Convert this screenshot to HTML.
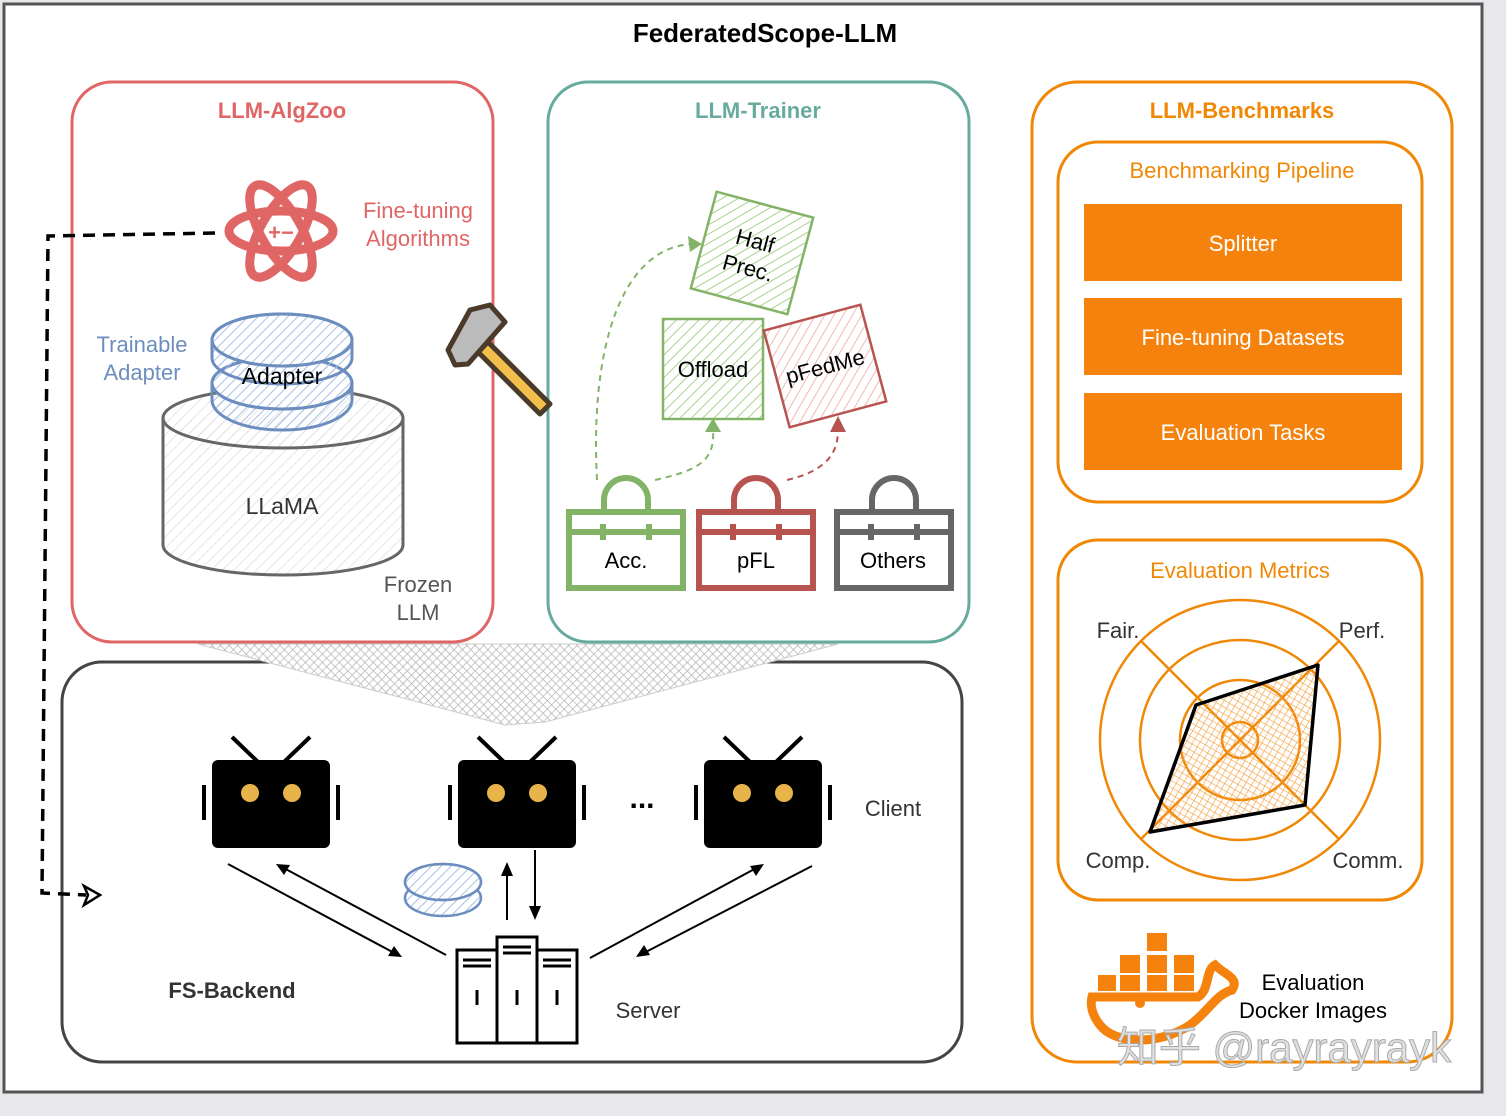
<!DOCTYPE html>
<html><head><meta charset="utf-8"><style>
html,body{margin:0;padding:0;background:#fff;}
svg{display:block;font-family:"Liberation Sans",Arial,sans-serif;}
</style></head><body>
<svg width="1506" height="1116" viewBox="0 0 1506 1116" xmlns="http://www.w3.org/2000/svg">
<defs>
<pattern id="hg" patternUnits="userSpaceOnUse" width="8" height="8" patternTransform="rotate(45)"><line x1="0" y1="0" x2="0" y2="8" stroke="#a9d18e" stroke-width="2"/></pattern>
<pattern id="hr" patternUnits="userSpaceOnUse" width="8" height="8" patternTransform="rotate(45)"><line x1="0" y1="0" x2="0" y2="8" stroke="#f2b8b8" stroke-width="2"/></pattern>
<pattern id="hb" patternUnits="userSpaceOnUse" width="7" height="7" patternTransform="rotate(45)"><line x1="0" y1="0" x2="0" y2="7" stroke="#a8c0e6" stroke-width="2"/></pattern>
<pattern id="hy" patternUnits="userSpaceOnUse" width="8" height="8" patternTransform="rotate(45)"><line x1="0" y1="0" x2="0" y2="8" stroke="#dedede" stroke-width="1.5"/></pattern>
<pattern id="hx" patternUnits="userSpaceOnUse" width="6" height="6" patternTransform="rotate(45)"><path d="M0 0V6M0 0H6" stroke="#b5b5b5" stroke-width="1.5"/></pattern>
<pattern id="ho" patternUnits="userSpaceOnUse" width="6" height="6" patternTransform="rotate(30)"><path d="M0 0V6M0 0H6" stroke="#f5a040" stroke-width="1.3"/></pattern>
</defs>
<rect x="0" y="0" width="1506" height="1116" fill="#e8e8ec"/>
<rect x="4" y="4" width="1478" height="1088" fill="#fff" stroke="#555" stroke-width="3"/>
<text x="765" y="42" text-anchor="middle" font-size="26" font-weight="bold">FederatedScope-LLM</text>

<!-- Backend (drawn first, so trapezoid overlays) -->
<rect x="62" y="662" width="900" height="400" rx="40" fill="#fff" stroke="#444" stroke-width="3"/>
<polygon points="198,644 838,644 545,722 505,725" fill="#fff"/>
<polygon points="198,644 838,644 545,722 505,725" fill="url(#hx)" stroke="#ccc" stroke-width="1"/>

<!-- AlgZoo -->
<rect x="72" y="82" width="421" height="560" rx="40" fill="#fff" stroke="#e06666" stroke-width="3"/>
<text x="282" y="118" text-anchor="middle" font-size="22" font-weight="bold" fill="#e06666">LLM-AlgZoo</text>
<g fill="none" stroke="#e06666" stroke-width="9">
<ellipse cx="281" cy="231" rx="52" ry="20"/>
<ellipse cx="281" cy="231" rx="52" ry="20" transform="rotate(60 281 231)"/>
<ellipse cx="281" cy="231" rx="52" ry="20" transform="rotate(-60 281 231)"/>
</g>
<text x="281" y="240" text-anchor="middle" font-size="22" font-weight="bold" fill="#e06666">+−</text>
<text x="418" y="218" text-anchor="middle" font-size="22" fill="#e06666">Fine-tuning</text>
<text x="418" y="246" text-anchor="middle" font-size="22" fill="#e06666">Algorithms</text>
<text x="142" y="352" text-anchor="middle" font-size="22" fill="#6c8ebf">Trainable</text>
<text x="142" y="380" text-anchor="middle" font-size="22" fill="#6c8ebf">Adapter</text>
<path d="M163 418 V545 A120 30 0 0 0 403 545 V418" fill="url(#hy)" stroke="#666" stroke-width="3"/>
<ellipse cx="283" cy="418" rx="120" ry="30" fill="url(#hy)" stroke="#666" stroke-width="3"/>
<g stroke="#6c8ebf" stroke-width="3" fill="url(#hb)">
<path d="M212 383 V400 A70 30 0 0 0 352 400 V383"/>
<ellipse cx="282" cy="383" rx="70" ry="26" fill="#fff"/>
<ellipse cx="282" cy="383" rx="70" ry="26"/>
<path d="M212 340 V358 A70 26 0 0 0 352 358 V340"/>
<ellipse cx="282" cy="340" rx="70" ry="26" fill="#fff"/>
<ellipse cx="282" cy="340" rx="70" ry="26"/>
</g>
<text x="282" y="384" text-anchor="middle" font-size="23">Adapter</text>
<text x="282" y="514" text-anchor="middle" font-size="23" fill="#333">LLaMA</text>
<text x="418" y="592" text-anchor="middle" font-size="22" fill="#555">Frozen</text>
<text x="418" y="620" text-anchor="middle" font-size="22" fill="#555">LLM</text>

<!-- Trainer -->
<rect x="548" y="82" width="421" height="560" rx="40" fill="#fff" stroke="#67ab9f" stroke-width="3"/>
<text x="758" y="118" text-anchor="middle" font-size="22" font-weight="bold" fill="#67ab9f">LLM-Trainer</text>
<!-- hammer -->
<g stroke="#4a3a2a" stroke-width="5" stroke-linejoin="round">
<polygon points="488,342 550,404 540,414 478,352" fill="#f2c04a"/>
<polygon points="448,350 470,310 490,305 505,322 468,364 455,365" fill="#bbb"/>
</g>
<g transform="rotate(15 752 253)"><rect x="702" y="203" width="100" height="100" fill="url(#hg)" stroke="#82b366" stroke-width="2.5"/>
<text x="752" y="248" text-anchor="middle" font-size="22">Half</text><text x="752" y="276" text-anchor="middle" font-size="22">Prec.</text></g>
<rect x="663" y="319" width="100" height="100" fill="url(#hg)" stroke="#82b366" stroke-width="2.5"/>
<text x="713" y="377" text-anchor="middle" font-size="22">Offload</text>
<g transform="rotate(-15 825 366)"><rect x="775" y="316" width="100" height="100" fill="url(#hr)" stroke="#b85450" stroke-width="2.5"/>
<text x="825" y="374" text-anchor="middle" font-size="22">pFedMe</text></g>
<g fill="none" stroke-width="2" stroke-dasharray="6,5">
<path d="M597 480 C590 350 620 250 690 244" stroke="#82b366"/>
<path d="M655 480 C700 470 715 460 713 430" stroke="#82b366"/>
<path d="M787 480 C830 470 838 450 838 430" stroke="#b85450"/>
</g>
<polygon points="702,244 688,236 690,252" fill="#82b366"/>
<polygon points="713,418 705,432 721,432" fill="#82b366"/>
<polygon points="838,416 830,432 846,432" fill="#b85450"/>
<g fill="#fff" stroke-width="6">
<g stroke="#82b366"><path d="M604 512 V500 A22 22 0 0 1 648 500 V512" fill="none"/><rect x="569" y="512" width="114" height="76"/><line x1="569" y1="532" x2="683" y2="532"/><line x1="603" y1="524" x2="603" y2="540"/><line x1="649" y1="524" x2="649" y2="540"/></g>
<g stroke="#b85450"><path d="M734 512 V500 A22 22 0 0 1 778 500 V512" fill="none"/><rect x="699" y="512" width="114" height="76"/><line x1="699" y1="532" x2="813" y2="532"/><line x1="733" y1="524" x2="733" y2="540"/><line x1="779" y1="524" x2="779" y2="540"/></g>
<g stroke="#666"><path d="M872 512 V500 A22 22 0 0 1 916 500 V512" fill="none"/><rect x="837" y="512" width="114" height="76"/><line x1="837" y1="532" x2="951" y2="532"/><line x1="871" y1="524" x2="871" y2="540"/><line x1="917" y1="524" x2="917" y2="540"/></g>
</g>
<text x="626" y="568" text-anchor="middle" font-size="22">Acc.</text>
<text x="756" y="568" text-anchor="middle" font-size="22">pFL</text>
<text x="893" y="568" text-anchor="middle" font-size="22">Others</text>

<!-- robots -->
<g>
<g id="rb"><line x1="232" y1="737" x2="258" y2="762" stroke="#000" stroke-width="4"/><line x1="310" y1="737" x2="284" y2="762" stroke="#000" stroke-width="4"/>
<rect x="212" y="760" width="118" height="88" rx="6" fill="#000"/><rect x="202" y="785" width="4" height="35" fill="#000"/><rect x="336" y="785" width="4" height="35" fill="#000"/>
<circle cx="250" cy="793" r="9" fill="#e8b44a"/><circle cx="292" cy="793" r="9" fill="#e8b44a"/></g>
<use href="#rb" x="246"/><use href="#rb" x="492"/>
</g>
<text x="642" y="808" text-anchor="middle" font-size="30" font-weight="bold">...</text>
<text x="893" y="816" text-anchor="middle" font-size="22" fill="#333">Client</text>
<g fill="#fff" stroke="#000" stroke-width="3">
<rect x="457" y="950" width="40" height="93"/><rect x="497" y="937" width="40" height="106"/><rect x="537" y="950" width="40" height="93"/>
<line x1="463" y1="960" x2="491" y2="960"/><line x1="463" y1="966" x2="491" y2="966"/>
<line x1="503" y1="947" x2="531" y2="947"/><line x1="503" y1="953" x2="531" y2="953"/>
<line x1="543" y1="960" x2="571" y2="960"/><line x1="543" y1="966" x2="571" y2="966"/>
<line x1="477" y1="990" x2="477" y2="1005"/><line x1="517" y1="990" x2="517" y2="1005"/><line x1="557" y1="990" x2="557" y2="1005"/>
</g>
<g stroke="#000" stroke-width="2" fill="none">
<line x1="228" y1="864" x2="398" y2="955"/><line x1="446" y1="955" x2="280" y2="866"/>
<line x1="507" y1="920" x2="507" y2="866"/><line x1="535" y1="850" x2="535" y2="915"/>
<line x1="590" y1="958" x2="760" y2="866"/><line x1="812" y1="866" x2="640" y2="955"/>
</g>
<g fill="#000">
<polygon points="402,957 388,956 394,946"/><polygon points="276,864 290,865 284,875"/>
<polygon points="507,862 501,876 513,876"/><polygon points="535,920 529,906 541,906"/>
<polygon points="764,864 756,876 750,866"/><polygon points="636,957 644,945 650,955"/>
</g>
<g stroke="#6c8ebf" stroke-width="2.5" fill="url(#hb)">
<ellipse cx="443" cy="898" rx="38" ry="18"/><ellipse cx="443" cy="882" rx="38" ry="18" fill="#fff"/><ellipse cx="443" cy="882" rx="38" ry="18"/>
</g>
<text x="232" y="998" text-anchor="middle" font-size="22" font-weight="bold" fill="#333">FS-Backend</text>
<text x="648" y="1018" text-anchor="middle" font-size="22" fill="#333">Server</text>
<path d="M215 233 L48 236 L42 893 L86 895" fill="none" stroke="#000" stroke-width="3.5" stroke-dasharray="12,8"/>
<polygon points="100,895 84,886 88,895 84,905" fill="#fff" stroke="#000" stroke-width="2.5"/>

<!-- Benchmarks -->
<rect x="1032" y="82" width="420" height="980" rx="45" fill="none" stroke="#f08705" stroke-width="3"/>
<text x="1242" y="118" text-anchor="middle" font-size="22" font-weight="bold" fill="#f08705">LLM-Benchmarks</text>
<rect x="1058" y="142" width="364" height="360" rx="40" fill="none" stroke="#f08705" stroke-width="3"/>
<text x="1242" y="178" text-anchor="middle" font-size="22" fill="#f08705">Benchmarking Pipeline</text>
<g fill="#f5820c"><rect x="1084" y="204" width="318" height="77"/><rect x="1084" y="298" width="318" height="77"/><rect x="1084" y="393" width="318" height="77"/></g>
<g fill="#fff" font-size="22" text-anchor="middle"><text x="1243" y="251">Splitter</text><text x="1243" y="345">Fine-tuning Datasets</text><text x="1243" y="440">Evaluation Tasks</text></g>
<rect x="1058" y="540" width="364" height="360" rx="40" fill="none" stroke="#f08705" stroke-width="3"/>
<text x="1240" y="578" text-anchor="middle" font-size="22" fill="#f08705">Evaluation Metrics</text>
<g fill="none" stroke="#f08705" stroke-width="2.5">
<circle cx="1240" cy="740" r="140"/><circle cx="1240" cy="740" r="100"/><circle cx="1240" cy="740" r="60"/><circle cx="1240" cy="740" r="18"/>
<line x1="1141" y1="641" x2="1339" y2="839"/><line x1="1339" y1="641" x2="1141" y2="839"/>
</g>
<polygon points="1318,665 1305,805 1150,832 1196,705" fill="url(#ho)" stroke="#000" stroke-width="3.5" stroke-linejoin="round"/>
<g font-size="22" fill="#333" text-anchor="middle"><text x="1118" y="638">Fair.</text><text x="1362" y="638">Perf.</text><text x="1118" y="868">Comp.</text><text x="1368" y="868">Comm.</text></g>
<!-- docker -->
<g fill="#f5820c">
<rect x="1147" y="933" width="20" height="18"/>
<rect x="1120" y="955" width="20" height="18"/><rect x="1147" y="955" width="20" height="18"/><rect x="1174" y="955" width="20" height="18"/>
<rect x="1098" y="975" width="18" height="16"/><rect x="1120" y="975" width="20" height="16"/><rect x="1147" y="975" width="20" height="16"/><rect x="1174" y="975" width="20" height="16"/>
</g>
<path d="M1092 997 H1198 C1210 990 1205 970 1215 965 C1225 975 1240 978 1232 990 C1215 995 1210 1010 1190 1025 C1160 1045 1115 1045 1100 1025 C1092 1015 1090 1005 1092 997 Z" fill="none" stroke="#f5820c" stroke-width="9"/>
<circle cx="1140" cy="1003" r="5" fill="#f5820c"/>
<text x="1313" y="990" text-anchor="middle" font-size="22">Evaluation</text>
<text x="1313" y="1018" text-anchor="middle" font-size="22">Docker Images</text>
<text x="1284" y="1062" text-anchor="middle" font-size="42" fill="#e0e0e0" stroke="#aaa" stroke-width="1" font-family="'Liberation Sans','Noto Sans CJK SC',sans-serif">知乎 @rayrayrayk</text>
</svg>
</body></html>
